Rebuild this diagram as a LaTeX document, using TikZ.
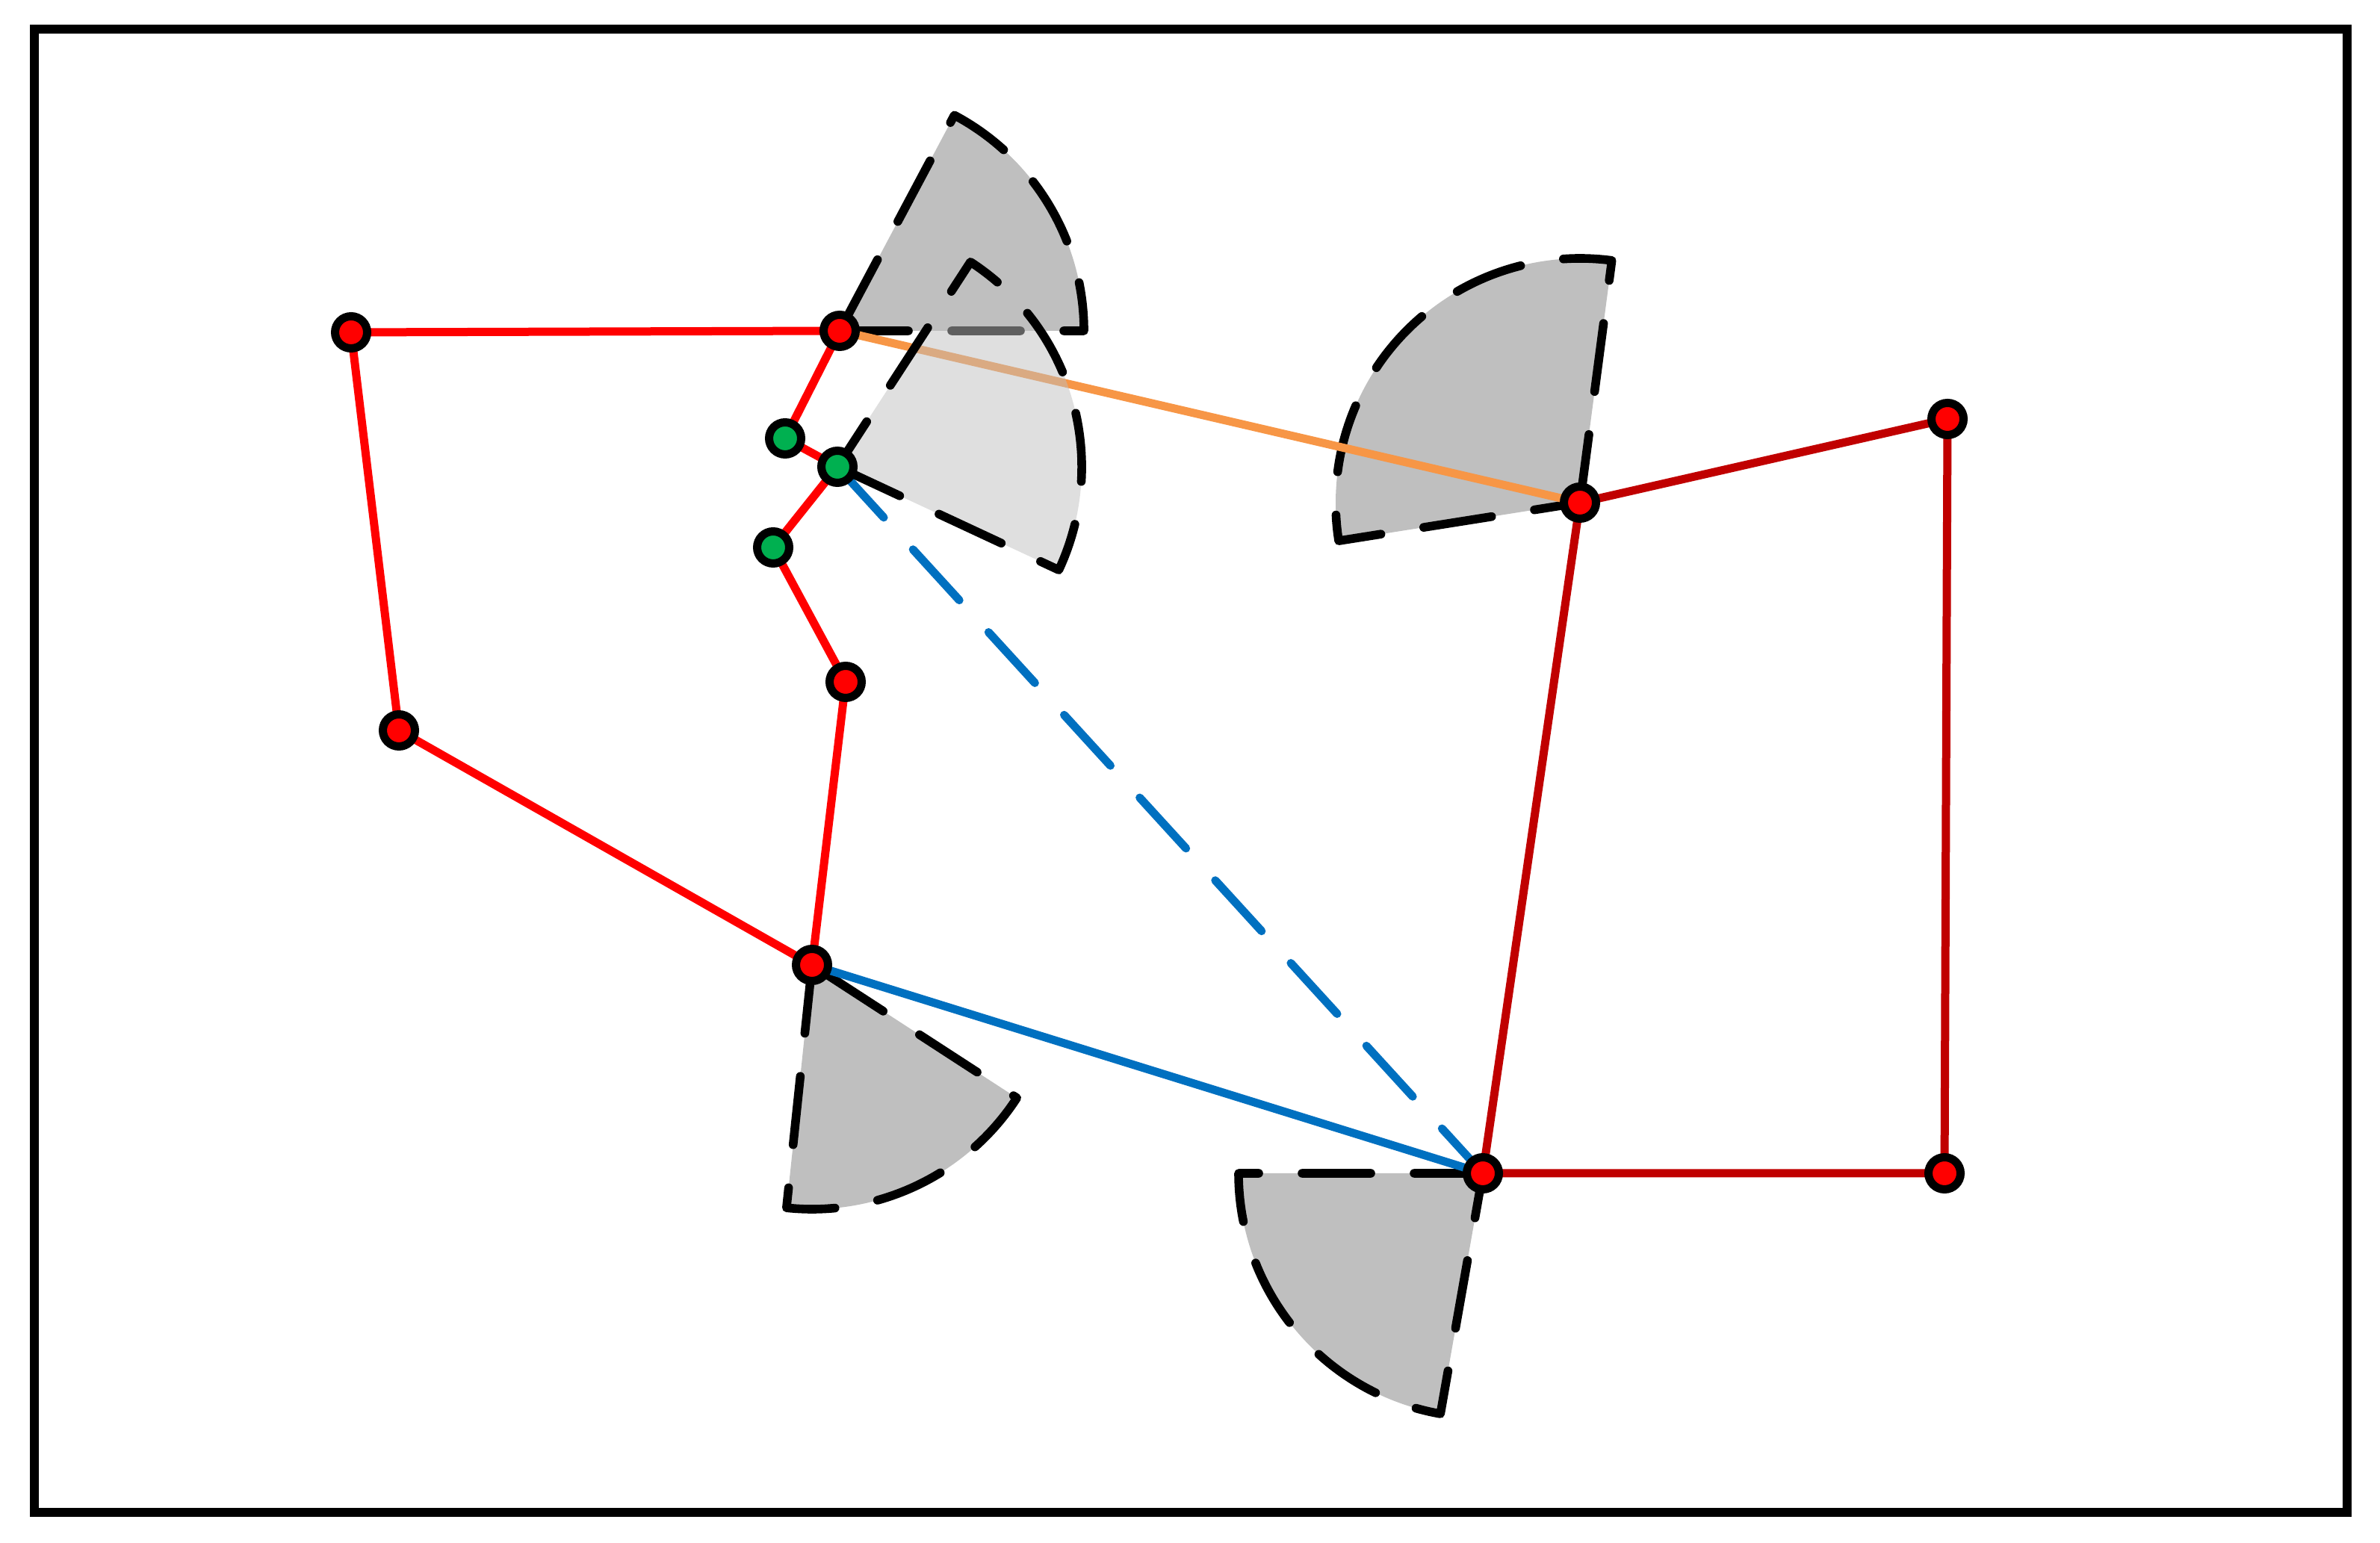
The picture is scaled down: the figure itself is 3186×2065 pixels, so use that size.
\documentclass[tikz,border=0pt]{standalone}
\usetikzlibrary{backgrounds}
\definecolor{myred}{HTML}{FF0000}
\definecolor{mydarkred}{HTML}{C00000}
\definecolor{myorange}{HTML}{F79646}
\definecolor{myblue}{HTML}{0070C0}
\definecolor{mygreen}{HTML}{00B050}
\definecolor{wedgegray}{HTML}{BFBFBF}
\pgfdeclarelayer{wedges}
\pgfdeclarelayer{lines}
\pgfdeclarelayer{wedgeb}
\pgfsetlayers{wedges,lines,wedgeb,main}
\tikzset{
  vtx/.style={circle, draw=black, line width=2.75pt, inner sep=0pt, minimum size=10.75pt},
  rednode/.style={vtx, fill=myred},
  greennode/.style={vtx, fill=mygreen},
  wedge/.style={draw=black, fill=wedgegray, line width=2.9pt, line cap=round, line join=round, dash pattern=on 23pt off 14.5pt},
  wedgelight/.style={wedge, fill opacity=0.5},
  conn/.style={line width=2.75pt, line cap=round, line join=round},
  redline/.style={conn, draw=myred},
  darkredline/.style={conn, draw=mydarkred},
  orangeline/.style={conn, draw=myorange},
  blueline/.style={conn, draw=myblue},
  bluedash/.style={conn, draw=myblue, dash pattern=on 23pt off 14.5pt},
  frame/.style={draw=black, line width=3pt}
}
\begin{document}
\begin{tikzpicture}[x=0.25pt, y=0.25pt]
\useasboundingbox (0,0) rectangle (3186,2065);
\draw[frame] (46,40) rectangle (3142,2026);
% nodes
\node[rednode] (p1) at (470,1620) {};
\node[rednode] (p2) at (1124,1622) {};
\node[greennode] (g1) at (1051,1478) {};
\node[greennode] (g2) at (1121,1440) {};
\node[greennode] (g3) at (1035,1332) {};
\node[rednode] (p3) at (1132,1152) {};
\node[rednode] (p4) at (534,1087) {};
\node[rednode] (p5) at (1087,773) {};
\node[rednode] (p6) at (1985,494) {};
\node[rednode] (p7) at (2115,1392) {};
\node[rednode] (p8) at (2607,1504) {};
\node[rednode] (p9) at (2603,494) {};
% opaque wedges
\begin{pgfonlayer}{wedges}
\draw[wedge] (p2.center) -- ++(0:81.75pt) arc[start angle=0, end angle=62, radius=81.75pt] -- cycle;
\draw[wedge] (p7.center) -- ++(82.5:81.75pt) arc[start angle=82.5, end angle=189, radius=81.75pt] -- cycle;
\draw[wedge] (p5.center) -- ++(-96:81.75pt) arc[start angle=-96, end angle=-33, radius=81.75pt] -- cycle;
\draw[wedge] (p6.center) -- ++(180:81.75pt) arc[start angle=180, end angle=260, radius=81.75pt] -- cycle;
\end{pgfonlayer}
% connectors
\begin{pgfonlayer}{lines}
\draw[redline] (p1.center) -- (p2.center) -- (g1.center) -- (g2.center) -- (g3.center) -- (p3.center) -- (p5.center) -- (p4.center) -- (p1.center);
\draw[darkredline] (p7.center) -- (p8.center) -- (p9.center) -- (p6.center) -- (p7.center);
\draw[orangeline] (p2.center) -- (p7.center);
\draw[blueline] (p5.center) -- (p6.center);
\draw[bluedash] (g2.center) -- (p6.center);
\end{pgfonlayer}
% translucent wedge
\begin{pgfonlayer}{wedgeb}
\draw[wedgelight] (g2.center) -- ++(-25:81.75pt) arc[start angle=-25, end angle=57, radius=81.75pt] -- cycle;
\end{pgfonlayer}
\end{tikzpicture}
\end{document}
